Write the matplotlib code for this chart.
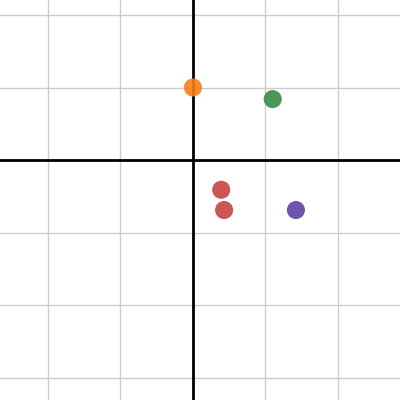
import matplotlib
matplotlib.use("Agg")
import matplotlib.pyplot as plt

xs = [0.0, 1.1, 0.39, 0.43, 1.42]
ys = [1.0, 0.84, -0.41, -0.69, -0.69]
colors = ["#fa7e19", "#388c46", "#c74440", "#c74440", "#6042a6"]

fig = plt.figure(figsize=(4, 4), dpi=100)
ax = fig.add_axes([0, 0, 1, 1])
ax.set_xlim(-2.66, 2.855)
ax.set_ylim(-3.31, 2.207)
for v in range(-3, 4):
    ax.axvline(v, color="#cccccc", lw=1, zorder=0)
    ax.axhline(v, color="#cccccc", lw=1, zorder=0)
ax.axvline(0, color="black", lw=2, zorder=1)
ax.axhline(0, color="black", lw=2, zorder=1)
ax.scatter(xs, ys, c=colors, s=170, alpha=0.9, edgecolors="none", zorder=3)
ax.set_xticks([]); ax.set_yticks([])
for s in ax.spines.values():
    s.set_visible(False)
fig.savefig("out.png", dpi=100)
